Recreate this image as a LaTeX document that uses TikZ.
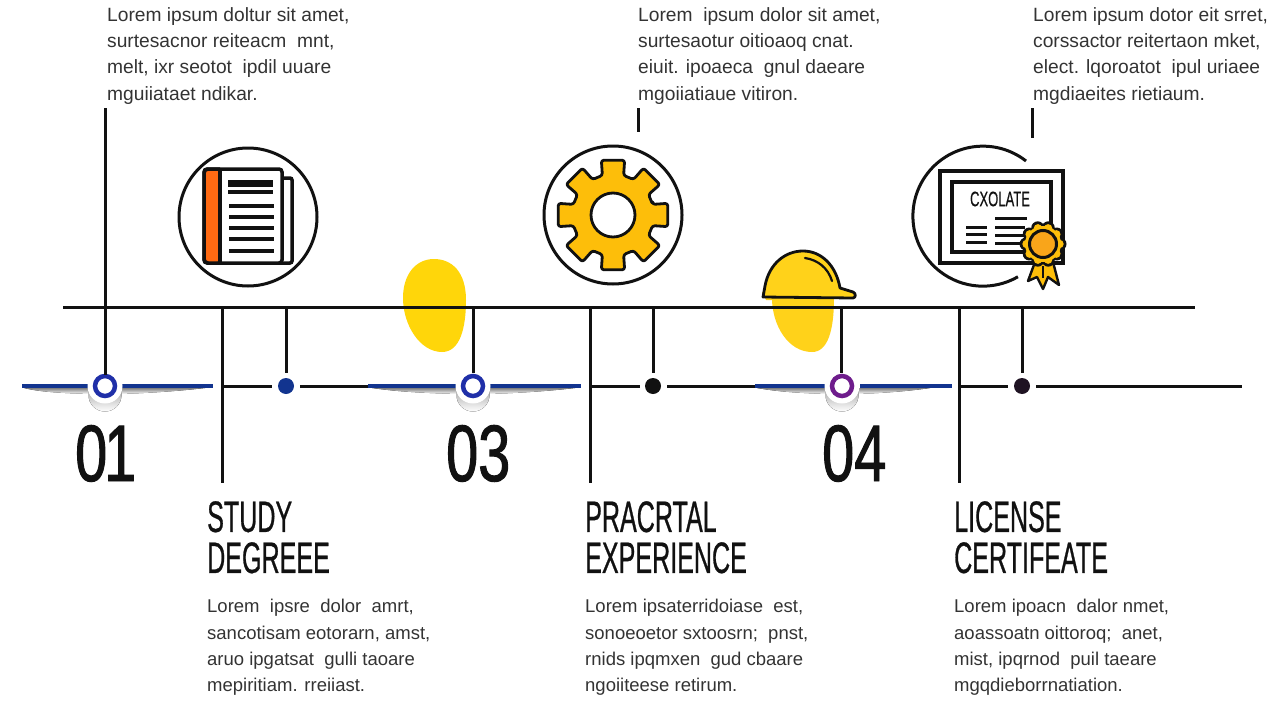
\documentclass[tikz,border=0pt]{standalone}
\usepackage{fontspec}
\setmainfont{Liberation Sans}
\newfontfamily\headfont[FakeStretch=0.57,FakeBold=0.6]{Liberation Sans}
\newfontfamily\numfont[FakeStretch=0.72,FakeBold=1.2]{Liberation Sans}
\newfontfamily\certfont[FakeStretch=0.62,FakeBold=0.4]{Liberation Sans}
\usetikzlibrary{calc}
\definecolor{ink}{HTML}{111111}
\definecolor{bodyink}{HTML}{333333}
\definecolor{navy}{HTML}{12348F}
\definecolor{ringblue}{HTML}{1F2FA8}
\definecolor{ringpurple}{HTML}{6E1C8C}
\definecolor{blobyellow}{HTML}{FFD60A}
\definecolor{gearyellow}{HTML}{FDBE0A}
\definecolor{hatyellow}{HTML}{FFD21A}
\definecolor{bookorange}{HTML}{FF6A13}
\definecolor{sealorange}{HTML}{F9A51A}
\definecolor{shade}{HTML}{C8C8C8}
\tikzset{
  x=1pt,y=-1pt,
  line/.style={draw=ink,line width=3pt},
  thin line/.style={draw=ink,line width=3pt},
  bar/.style={draw=navy,line width=4.5pt},
  icon ring/.style={draw=ink,line width=3pt,fill=white},
  body/.style={anchor=north west,align=left,inner sep=0pt,text=bodyink,
    font=\fontsize{19.2}{26.4}\selectfont},
  lowbody/.style={body,font=\fontsize{18.5}{26.4}\selectfont},
  head/.style={anchor=north west,align=left,inner sep=0pt,text=ink,
    font=\headfont\fontsize{44}{41}\selectfont},
  num/.style={anchor=base west,inner sep=0pt,text=ink,
    font=\numfont\fontsize{80}{80}\selectfont},
  dotnode/.style={circle,inner sep=0pt,minimum size=16pt},
  ringnode/.style={circle,draw=#1,fill=white,line width=4.5pt,inner sep=0pt,minimum size=20pt},
}
\begin{document}
\begin{tikzpicture}
\useasboundingbox (0,0) rectangle (1280,720);
% yellow blobs
\fill[blobyellow] (434,259) .. controls (452,259) and (466,272) .. (466,300)
  .. controls (466,328) and (460,352) .. (442,352)
  .. controls (420,352) and (403,325) .. (403,298)
  .. controls (403,274) and (416,259) .. (434,259) -- cycle;
\fill[hatyellow] (772,298) .. controls (772,325) and (788,352) .. (812,352)
  .. controls (828,352) and (834,330) .. (834,298) -- cycle;
% anchors
\coordinate (t1) at (105,108);
\coordinate (t2) at (638,108);
\coordinate (t3) at (1032,108);
\coordinate (e2) at (638,132);
\coordinate (e3) at (1032,138);
\coordinate (mainL) at (63,307);
\coordinate (mainR) at (1195,307);
% lower shadow bars
\fill[shade] (24,388) -- (90,388) -- (90,394) .. controls (60,393) and (40,392) .. (24,388) -- cycle;
\fill[shade] (120,388) -- (205,388) .. controls (180,391) and (150,393) .. (120,394) -- cycle;
\fill[shade] (372,388) -- (458,388) -- (458,394) .. controls (425,393) and (400,392) .. (372,388) -- cycle;
\fill[shade] (488,388) -- (575,388) .. controls (550,391) and (520,393) .. (488,394) -- cycle;
\fill[shade] (757,388) -- (827,388) -- (827,394) .. controls (800,393) and (780,392) .. (757,388) -- cycle;
\fill[shade] (857,388) -- (930,388) .. controls (910,391) and (885,393) .. (857,394) -- cycle;
% lower line
\draw[thin line] (222,386) -- (272,386);
\draw[thin line] (300,386) -- (368,386);
\draw[thin line] (590,386) -- (640,386);
\draw[thin line] (667,386) -- (755,386);
\draw[thin line] (959,386) -- (1008,386);
\draw[thin line] (1036,386) -- (1242,386);
\draw[bar] (22,386) -- (88,386);
\draw[bar] (122,386) -- (213,386);
\draw[bar] (368,386) -- (457,386);
\draw[bar] (490,386) -- (581,386);
\draw[bar] (755,386) -- (825,386);
\draw[bar] (860,386) -- (952,386);
% ring halos
\foreach \hx in {105,473,842}{
  \fill[shade] (\hx,395) circle[radius=16.5];
  \fill[white] (\hx,386) circle[radius=17.5];
}
% dots and rings
\node[ringnode=ringblue] (r1) at (105,386) {};
\node[ringnode=ringblue] (r3) at (473,386) {};
\node[ringnode=ringpurple] (r4) at (842,386) {};
\node[dotnode,fill=navy] (d1) at (286,386) {};
\node[dotnode,fill=ink] (d2) at (653,386) {};
\node[dotnode,fill=ink!85!ringpurple] (d3) at (1022,386) {};
% vertical connectors
\coordinate (m1) at (222,307);\coordinate (b1) at (222,483);
\coordinate (m2) at (590,307);\coordinate (b2) at (590,483);
\coordinate (m3) at (959,307);\coordinate (b3) at (959,483);
\draw[line] (m1) -- (b1);
\draw[line] (m2) -- (b2);
\draw[line] (m3) -- (b3);
\draw[line] (t1) -- (105,375);
\draw[line] (t2) -- (e2);
\draw[line] (t3) -- (e3);
\draw[line] (286,307) -- (286,373);
\draw[line] (473,307) -- (473,373);
\draw[line] (653,307) -- (653,373);
\draw[line] (841,307) -- (841,373);
\draw[line] (1022,307) -- (1022,373);
\draw[line] (mainL) -- (mainR);
% book icon
\node[circle,icon ring,inner sep=0pt,minimum size=138pt] (bookring) at (248,217) {};
\draw[draw=ink,line width=3.5pt,fill=white,rounded corners=2pt] (275,178) -- (292,178) -- (292,263) -- (270,263) -- cycle;
\draw[draw=ink,line width=3.5pt,fill=white,rounded corners=3pt] (204,169) rectangle (282,263);
\fill[bookorange,rounded corners=4pt] (205,170) rectangle (220,262);
\draw[ink,line width=3.5pt,rounded corners=4pt] (220,169) -- (204,169) -- (204,263) -- (220,263);
\draw[ink,line width=4pt] (220,169) -- (220,263);
\draw[ink,line width=7pt] (228,183) -- (273,183);
\draw[ink,line width=4.5pt] (228,192) -- (273,192);
\foreach \ly in {206,217,228,239,251}{\draw[ink,line width=3.2pt] (229,\ly) -- (274,\ly);}
% gear icon
\node[circle,icon ring,inner sep=0pt,minimum size=138pt] (gearring) at (613,215) {};
\begin{scope}[shift={(613,215)}]
\draw[draw=ink,line width=2.8pt,fill=gearyellow,line join=round,rounded corners=2.5pt]
  (-15:41)
  \foreach \a in {0,45,...,315}{
    -- (\a-15:41) -- (\a-12:56) -- (\a+12:56) -- (\a+15:41)
  } -- cycle;
\draw[draw=ink,line width=2.8pt,fill=white] (0,0) circle[radius=22];
\end{scope}
% hard hat
\fill[hatyellow] (762,292) -- (766,300) -- (800,300) -- cycle;
\draw[draw=ink,line width=2.8pt,fill=hatyellow,line join=round]
  (763,297) -- (765,286) .. controls (769,264) and (785,251) .. (803,251)
  .. controls (821,251) and (836,265) .. (840,288) -- (853,292)
  .. controls (856,293) and (856,298) .. (853,298) -- (763,297) -- cycle;
\draw[ink,line width=2.2pt,line cap=round] (805,258) .. controls (818,260) and (828,268) .. (832,281);
% certificate icon
\draw[ink,line width=3pt] (1026,161) arc[start angle=-52,end angle=-300,radius=70];
\fill[white] (940,171) rectangle (1063,263);
\draw[ink,line width=3.2pt] (940,171) rectangle (1063,263);
\draw[ink,line width=3.2pt] (952,182) rectangle (1051,252);
\node[inner sep=0pt,text=ink] (certtext) at (1000,199) {\certfont\fontsize{21}{21}\selectfont CXOLATE};
\foreach \ly in {227,234,242}{\draw[ink,line width=3pt] (966,\ly) -- (987,\ly);}
\draw[ink,line width=3pt] (995,218) -- (1027,218);
\draw[ink,line width=3pt] (995,227) -- (1025,227);
\draw[ink,line width=3pt] (995,235) -- (1025,235);
\draw[ink,line width=3pt] (995,243) -- (1020,243);
\draw[draw=ink,line width=2.4pt,fill=gearyellow,line join=round]
  (1035,262) -- (1028,281) -- (1037,277) -- (1043,289) -- (1048,277) -- (1059,285) -- (1053,262) -- cycle;
\draw[ink,line width=2pt] (1043,266) -- (1043,278);
\foreach \a in {0,36,...,324}{\fill[ink] ($(1043,244)+(\a:17)$) circle[radius=6.5];}
\foreach \a in {0,36,...,324}{\fill[gearyellow] ($(1043,244)+(\a:16.5)$) circle[radius=4.2];}
\node[circle,fill=gearyellow,inner sep=0pt,minimum size=36pt] (seal) at (1043,244) {};
\node[circle,draw=ink,line width=3pt,fill=sealorange,inner sep=0pt,minimum size=27pt] (sealcore) at (1043,244) {};
% numbers
\node[num] (n1) at (75,481) {0\kern-3pt 1};
\node[num] (n3) at (446,481) {03};
\node[num] (n4) at (822,481) {04};
% top text
\node[body] (txt1) at (107,7) {Lorem ipsum doltur sit amet,\\surtesacnor reiteacm\ \ mnt,\\melt, ixr seotot\ \ ipdil uuare\\mguiiataet ndikar.};
\node[body] (txt2) at (638,7) {Lorem\ \ ipsum dolor sit amet,\\surtesaotur oitioaoq cnat.\\eiuit. ipoaeca\ \ gnul daeare\\mgoiiatiaue vitiron.};
\node[body] (txt3) at (1033,7) {Lorem ipsum dotor eit srret,\\corssactor reitertaon mket,\\elect. lqoroatot\ \ ipul uriaee\\mgdiaeites rietiaum.};
% headings
\node[head] (h1) at (207,501) {STUDY\\DEGREEE};
\node[head] (h2) at (585,501) {PRACRTAL\\EXPERIENCE};
\node[head] (h3) at (954,501) {LICENSE\\CERTIFEATE};
% bottom text
\node[lowbody] (txt4) at (207,599) {Lorem\ \ ipsre\ \ dolor\ \ amrt,\\sancotisam eotorarn, amst,\\aruo ipgatsat\ \ gulli taoare\\mepiritiam. rreiiast.};
\node[lowbody] (txt5) at (585,599) {Lorem ipsaterridoiase\ \ est,\\sonoeoetor sxtoosrn;\ \ pnst,\\rnids ipqmxen\ \ gud cbaare\\ngoiiteese retirum.};
\node[lowbody] (txt6) at (954,599) {Lorem ipoacn\ \ dalor nmet,\\aoassoatn oittoroq;\ \ anet,\\mist, ipqrnod\ \ puil taeare\\mgqdieborrnatiation.};
\end{tikzpicture}
\end{document}
